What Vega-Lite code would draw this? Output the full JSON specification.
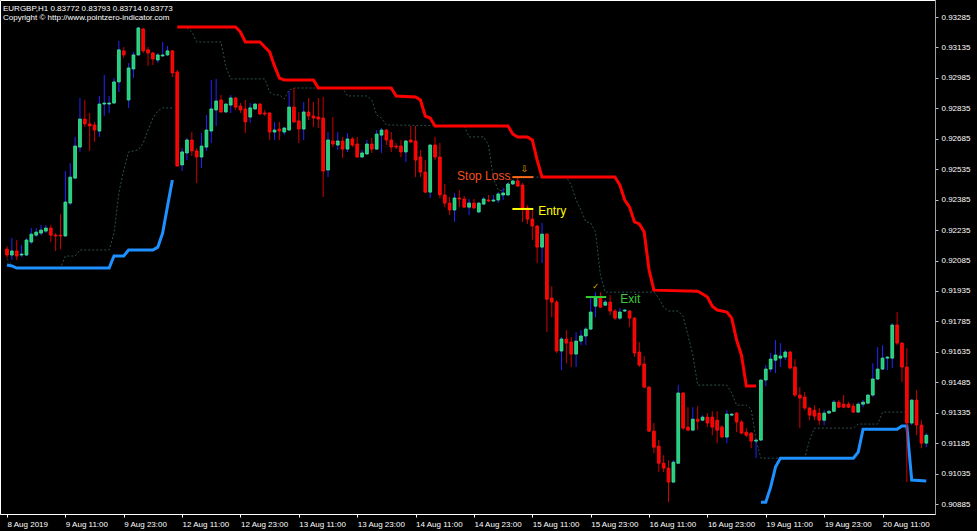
{
"$schema": "https://vega.github.io/schema/vega-lite/v6.json",
"width": 935, "height": 514,
"autosize": {"type": "none"},
"padding": {"left": 0, "top": 0, "right": 42, "bottom": 17},
"background": "#000000",
"config": {
  "view": {"stroke": "#ffffff", "strokeWidth": 1},
  "axis": {"labelFont": "Liberation Sans", "labelFontSize": 8, "labelColor": "#ffffff", "grid": false, "domainColor": "#ffffff", "tickColor": "#ffffff", "title": null, "labelOverlap": false}
},
"title": {"text": "EURGBP,H1  0.83772 0.83793 0.83714 0.83773", "subtitle": "Copyright © http://www.pointzero-indicator.com", "anchor": "start", "frame": "group", "orient": "top", "offset": -22, "dx": 3, "font": "Liberation Sans", "fontSize": 8, "fontWeight": "normal", "color": "#ffffff", "subtitleFont": "Liberation Sans", "subtitleFontSize": 8, "subtitleColor": "#ffffff", "subtitlePadding": 1},
"datasets": {
  "bars": [
{"i":0,"o":0.92141,"h":0.92156,"l":0.92097,"c":0.92112},
{"i":1,"o":0.92112,"h":0.92196,"l":0.92087,"c":0.92132},
{"i":2,"o":0.92132,"h":0.92186,"l":0.92087,"c":0.92107},
{"i":3,"o":0.92112,"h":0.92161,"l":0.92102,"c":0.92117},
{"i":4,"o":0.92112,"h":0.92196,"l":0.92107,"c":0.92186},
{"i":5,"o":0.92176,"h":0.92245,"l":0.92166,"c":0.92215},
{"i":6,"o":0.92210,"h":0.92245,"l":0.92201,"c":0.92225},
{"i":7,"o":0.92220,"h":0.92260,"l":0.92210,"c":0.92235},
{"i":8,"o":0.92230,"h":0.92260,"l":0.92220,"c":0.92245},
{"i":9,"o":0.92245,"h":0.92260,"l":0.92176,"c":0.92210},
{"i":10,"o":0.92210,"h":0.92220,"l":0.92132,"c":0.92206},
{"i":11,"o":0.92210,"h":0.92314,"l":0.92141,"c":0.92206},
{"i":12,"o":0.92206,"h":0.92526,"l":0.92201,"c":0.92373},
{"i":13,"o":0.92368,"h":0.92565,"l":0.92358,"c":0.92496},
{"i":14,"o":0.92491,"h":0.92694,"l":0.92487,"c":0.92649},
{"i":15,"o":0.92644,"h":0.92886,"l":0.92620,"c":0.92782},
{"i":16,"o":0.92782,"h":0.92876,"l":0.92743,"c":0.92758},
{"i":17,"o":0.92758,"h":0.92812,"l":0.92625,"c":0.92748},
{"i":18,"o":0.92753,"h":0.92768,"l":0.92669,"c":0.92728},
{"i":19,"o":0.92723,"h":0.92896,"l":0.92694,"c":0.92856},
{"i":20,"o":0.92856,"h":0.92999,"l":0.92797,"c":0.92861},
{"i":21,"o":0.92856,"h":0.92896,"l":0.92812,"c":0.92861},
{"i":22,"o":0.92861,"h":0.92984,"l":0.92856,"c":0.92965},
{"i":23,"o":0.92965,"h":0.93167,"l":0.92915,"c":0.93123},
{"i":24,"o":0.93118,"h":0.93137,"l":0.93083,"c":0.93098},
{"i":25,"o":0.92876,"h":0.93058,"l":0.92837,"c":0.93034},
{"i":26,"o":0.93029,"h":0.93113,"l":0.92984,"c":0.93098},
{"i":27,"o":0.93098,"h":0.93236,"l":0.93093,"c":0.93231},
{"i":28,"o":0.93226,"h":0.93231,"l":0.93108,"c":0.93118},
{"i":29,"o":0.93123,"h":0.93137,"l":0.93044,"c":0.93108},
{"i":30,"o":0.93108,"h":0.93113,"l":0.93049,"c":0.93078},
{"i":31,"o":0.93073,"h":0.93108,"l":0.93058,"c":0.93098},
{"i":32,"o":0.93093,"h":0.93162,"l":0.93088,"c":0.93098},
{"i":33,"o":0.93098,"h":0.93142,"l":0.93093,"c":0.93118},
{"i":34,"o":0.93118,"h":0.93123,"l":0.92989,"c":0.93009},
{"i":35,"o":0.93014,"h":0.93024,"l":0.92546,"c":0.92551},
{"i":36,"o":0.92556,"h":0.92639,"l":0.92526,"c":0.92620},
{"i":37,"o":0.92615,"h":0.92689,"l":0.92580,"c":0.92679},
{"i":38,"o":0.92679,"h":0.92718,"l":0.92600,"c":0.92625},
{"i":39,"o":0.92625,"h":0.92639,"l":0.92467,"c":0.92595},
{"i":40,"o":0.92595,"h":0.92713,"l":0.92541,"c":0.92649},
{"i":41,"o":0.92644,"h":0.92802,"l":0.92625,"c":0.92728},
{"i":42,"o":0.92723,"h":0.92975,"l":0.92664,"c":0.92832},
{"i":43,"o":0.92827,"h":0.92980,"l":0.92748,"c":0.92871},
{"i":44,"o":0.92876,"h":0.92901,"l":0.92812,"c":0.92817},
{"i":45,"o":0.92817,"h":0.92861,"l":0.92812,"c":0.92856},
{"i":46,"o":0.92851,"h":0.92901,"l":0.92812,"c":0.92886},
{"i":47,"o":0.92886,"h":0.92891,"l":0.92827,"c":0.92841},
{"i":48,"o":0.92846,"h":0.92861,"l":0.92812,"c":0.92827},
{"i":49,"o":0.92832,"h":0.92876,"l":0.92713,"c":0.92768},
{"i":50,"o":0.92792,"h":0.92861,"l":0.92763,"c":0.92837},
{"i":51,"o":0.92832,"h":0.92861,"l":0.92827,"c":0.92856},
{"i":52,"o":0.92856,"h":0.92861,"l":0.92802,"c":0.92807},
{"i":53,"o":0.92812,"h":0.92827,"l":0.92797,"c":0.92807},
{"i":54,"o":0.92812,"h":0.92817,"l":0.92679,"c":0.92718},
{"i":55,"o":0.92718,"h":0.92768,"l":0.92679,"c":0.92728},
{"i":56,"o":0.92733,"h":0.92768,"l":0.92679,"c":0.92723},
{"i":57,"o":0.92718,"h":0.92743,"l":0.92703,"c":0.92738},
{"i":58,"o":0.92728,"h":0.92920,"l":0.92723,"c":0.92841},
{"i":59,"o":0.92841,"h":0.92935,"l":0.92763,"c":0.92768},
{"i":60,"o":0.92773,"h":0.92817,"l":0.92664,"c":0.92733},
{"i":61,"o":0.92733,"h":0.92866,"l":0.92679,"c":0.92817},
{"i":62,"o":0.92817,"h":0.92886,"l":0.92777,"c":0.92797},
{"i":63,"o":0.92797,"h":0.92866,"l":0.92743,"c":0.92787},
{"i":64,"o":0.92792,"h":0.92886,"l":0.92738,"c":0.92782},
{"i":65,"o":0.92787,"h":0.92891,"l":0.92398,"c":0.92526},
{"i":66,"o":0.92531,"h":0.92718,"l":0.92496,"c":0.92679},
{"i":67,"o":0.92674,"h":0.92792,"l":0.92644,"c":0.92659},
{"i":68,"o":0.92654,"h":0.92718,"l":0.92630,"c":0.92674},
{"i":69,"o":0.92674,"h":0.92694,"l":0.92590,"c":0.92634},
{"i":70,"o":0.92634,"h":0.92713,"l":0.92620,"c":0.92684},
{"i":71,"o":0.92684,"h":0.92694,"l":0.92644,"c":0.92654},
{"i":72,"o":0.92659,"h":0.92694,"l":0.92590,"c":0.92595},
{"i":73,"o":0.92595,"h":0.92630,"l":0.92590,"c":0.92615},
{"i":74,"o":0.92610,"h":0.92679,"l":0.92605,"c":0.92659},
{"i":75,"o":0.92659,"h":0.92689,"l":0.92615,"c":0.92634},
{"i":76,"o":0.92634,"h":0.92728,"l":0.92630,"c":0.92708},
{"i":77,"o":0.92703,"h":0.92738,"l":0.92615,"c":0.92728},
{"i":78,"o":0.92728,"h":0.92733,"l":0.92654,"c":0.92679},
{"i":79,"o":0.92679,"h":0.92718,"l":0.92620,"c":0.92644},
{"i":80,"o":0.92649,"h":0.92664,"l":0.92634,"c":0.92644},
{"i":81,"o":0.92649,"h":0.92679,"l":0.92595,"c":0.92620},
{"i":82,"o":0.92620,"h":0.92679,"l":0.92570,"c":0.92674},
{"i":83,"o":0.92679,"h":0.92748,"l":0.92664,"c":0.92669},
{"i":84,"o":0.92674,"h":0.92748,"l":0.92496,"c":0.92580},
{"i":85,"o":0.92595,"h":0.92630,"l":0.92496,"c":0.92521},
{"i":86,"o":0.92521,"h":0.92580,"l":0.92418,"c":0.92422},
{"i":87,"o":0.92422,"h":0.92659,"l":0.92393,"c":0.92654},
{"i":88,"o":0.92654,"h":0.92694,"l":0.92580,"c":0.92595},
{"i":89,"o":0.92595,"h":0.92664,"l":0.92393,"c":0.92408},
{"i":90,"o":0.92408,"h":0.92462,"l":0.92348,"c":0.92368},
{"i":91,"o":0.92368,"h":0.92398,"l":0.92309,"c":0.92334},
{"i":92,"o":0.92334,"h":0.92418,"l":0.92275,"c":0.92393},
{"i":93,"o":0.92393,"h":0.92432,"l":0.92348,"c":0.92388},
{"i":94,"o":0.92388,"h":0.92403,"l":0.92344,"c":0.92348},
{"i":95,"o":0.92348,"h":0.92388,"l":0.92309,"c":0.92368},
{"i":96,"o":0.92368,"h":0.92388,"l":0.92339,"c":0.92344},
{"i":97,"o":0.92324,"h":0.92373,"l":0.92319,"c":0.92368},
{"i":98,"o":0.92363,"h":0.92398,"l":0.92358,"c":0.92388},
{"i":99,"o":0.92383,"h":0.92408,"l":0.92373,"c":0.92378},
{"i":100,"o":0.92378,"h":0.92408,"l":0.92373,"c":0.92383},
{"i":101,"o":0.92383,"h":0.92422,"l":0.92368,"c":0.92413},
{"i":102,"o":0.92408,"h":0.92442,"l":0.92383,"c":0.92418},
{"i":103,"o":0.92408,"h":0.92467,"l":0.92403,"c":0.92462},
{"i":104,"o":0.92462,"h":0.92482,"l":0.92457,"c":0.92477},
{"i":105,"o":0.92477,"h":0.92496,"l":0.92447,"c":0.92452},
{"i":106,"o":0.92457,"h":0.92467,"l":0.92275,"c":0.92344},
{"i":107,"o":0.92344,"h":0.92358,"l":0.92265,"c":0.92289},
{"i":108,"o":0.92289,"h":0.92334,"l":0.92186,"c":0.92255},
{"i":109,"o":0.92255,"h":0.92260,"l":0.92072,"c":0.92151},
{"i":110,"o":0.92151,"h":0.92270,"l":0.92072,"c":0.92215},
{"i":111,"o":0.92215,"h":0.92220,"l":0.91732,"c":0.91894},
{"i":112,"o":0.91900,"h":0.91959,"l":0.91806,"c":0.91880},
{"i":113,"o":0.91880,"h":0.91890,"l":0.91629,"c":0.91639},
{"i":114,"o":0.91639,"h":0.91708,"l":0.91545,"c":0.91698},
{"i":115,"o":0.91698,"h":0.91742,"l":0.91579,"c":0.91678},
{"i":116,"o":0.91683,"h":0.91708,"l":0.91560,"c":0.91624},
{"i":117,"o":0.91624,"h":0.91732,"l":0.91560,"c":0.91688},
{"i":118,"o":0.91688,"h":0.91742,"l":0.91668,"c":0.91713},
{"i":119,"o":0.91713,"h":0.91757,"l":0.91668,"c":0.91747},
{"i":120,"o":0.91747,"h":0.91905,"l":0.91742,"c":0.91831},
{"i":121,"o":0.91860,"h":0.91929,"l":0.91806,"c":0.91905},
{"i":122,"o":0.91905,"h":0.91929,"l":0.91851,"c":0.91855},
{"i":123,"o":0.91865,"h":0.91890,"l":0.91860,"c":0.91880},
{"i":124,"o":0.91880,"h":0.91915,"l":0.91816,"c":0.91836},
{"i":125,"o":0.91836,"h":0.91846,"l":0.91792,"c":0.91801},
{"i":126,"o":0.91801,"h":0.91851,"l":0.91792,"c":0.91831},
{"i":127,"o":0.91836,"h":0.91846,"l":0.91831,"c":0.91841},
{"i":128,"o":0.91836,"h":0.91841,"l":0.91757,"c":0.91801},
{"i":129,"o":0.91801,"h":0.91806,"l":0.91609,"c":0.91629},
{"i":130,"o":0.91634,"h":0.91683,"l":0.91560,"c":0.91570},
{"i":131,"o":0.91575,"h":0.91614,"l":0.91456,"c":0.91461},
{"i":132,"o":0.91461,"h":0.91466,"l":0.91239,"c":0.91244},
{"i":133,"o":0.91244,"h":0.91284,"l":0.91136,"c":0.91165},
{"i":134,"o":0.91170,"h":0.91200,"l":0.91042,"c":0.91086},
{"i":135,"o":0.91086,"h":0.91126,"l":0.91042,"c":0.91062},
{"i":136,"o":0.91062,"h":0.91101,"l":0.90894,"c":0.90993},
{"i":137,"o":0.90993,"h":0.91101,"l":0.90988,"c":0.91091},
{"i":138,"o":0.91086,"h":0.91471,"l":0.91081,"c":0.91432},
{"i":139,"o":0.91432,"h":0.91437,"l":0.91249,"c":0.91259},
{"i":140,"o":0.91264,"h":0.91362,"l":0.91244,"c":0.91249},
{"i":141,"o":0.91249,"h":0.91362,"l":0.91244,"c":0.91303},
{"i":142,"o":0.91303,"h":0.91367,"l":0.91249,"c":0.91293},
{"i":143,"o":0.91298,"h":0.91323,"l":0.91293,"c":0.91313},
{"i":144,"o":0.91313,"h":0.91333,"l":0.91264,"c":0.91284},
{"i":145,"o":0.91313,"h":0.91342,"l":0.91224,"c":0.91264},
{"i":146,"o":0.91298,"h":0.91342,"l":0.91185,"c":0.91249},
{"i":147,"o":0.91264,"h":0.91274,"l":0.91210,"c":0.91215},
{"i":148,"o":0.91215,"h":0.91347,"l":0.91185,"c":0.91328},
{"i":149,"o":0.91323,"h":0.91333,"l":0.91318,"c":0.91328},
{"i":150,"o":0.91333,"h":0.91338,"l":0.91239,"c":0.91289},
{"i":151,"o":0.91289,"h":0.91298,"l":0.91229,"c":0.91234},
{"i":152,"o":0.91239,"h":0.91259,"l":0.91215,"c":0.91224},
{"i":153,"o":0.91234,"h":0.91239,"l":0.91160,"c":0.91195},
{"i":154,"o":0.91195,"h":0.91205,"l":0.91111,"c":0.91200},
{"i":155,"o":0.91200,"h":0.91501,"l":0.91195,"c":0.91496},
{"i":156,"o":0.91496,"h":0.91570,"l":0.91466,"c":0.91550},
{"i":157,"o":0.91550,"h":0.91629,"l":0.91535,"c":0.91599},
{"i":158,"o":0.91594,"h":0.91693,"l":0.91530,"c":0.91619},
{"i":159,"o":0.91604,"h":0.91678,"l":0.91560,"c":0.91614},
{"i":160,"o":0.91609,"h":0.91644,"l":0.91594,"c":0.91634},
{"i":161,"o":0.91634,"h":0.91639,"l":0.91550,"c":0.91555},
{"i":162,"o":0.91560,"h":0.91599,"l":0.91412,"c":0.91422},
{"i":163,"o":0.91422,"h":0.91461,"l":0.91259,"c":0.91407},
{"i":164,"o":0.91412,"h":0.91437,"l":0.91347,"c":0.91358},
{"i":165,"o":0.91358,"h":0.91362,"l":0.91298,"c":0.91323},
{"i":166,"o":0.91347,"h":0.91372,"l":0.91298,"c":0.91318},
{"i":167,"o":0.91333,"h":0.91358,"l":0.91274,"c":0.91298},
{"i":168,"o":0.91298,"h":0.91347,"l":0.91274,"c":0.91333},
{"i":169,"o":0.91333,"h":0.91347,"l":0.91328,"c":0.91342},
{"i":170,"o":0.91342,"h":0.91397,"l":0.91338,"c":0.91387},
{"i":171,"o":0.91387,"h":0.91397,"l":0.91358,"c":0.91362},
{"i":172,"o":0.91377,"h":0.91422,"l":0.91358,"c":0.91362},
{"i":173,"o":0.91377,"h":0.91387,"l":0.91358,"c":0.91362},
{"i":174,"o":0.91367,"h":0.91382,"l":0.91333,"c":0.91338},
{"i":175,"o":0.91338,"h":0.91387,"l":0.91333,"c":0.91377},
{"i":176,"o":0.91377,"h":0.91397,"l":0.91362,"c":0.91387},
{"i":177,"o":0.91382,"h":0.91427,"l":0.91377,"c":0.91422},
{"i":178,"o":0.91422,"h":0.91579,"l":0.91412,"c":0.91501},
{"i":179,"o":0.91501,"h":0.91658,"l":0.91496,"c":0.91550},
{"i":180,"o":0.91550,"h":0.91668,"l":0.91545,"c":0.91604},
{"i":181,"o":0.91604,"h":0.91614,"l":0.91545,"c":0.91609},
{"i":182,"o":0.91604,"h":0.91777,"l":0.91555,"c":0.91767},
{"i":183,"o":0.91767,"h":0.91831,"l":0.91668,"c":0.91678},
{"i":184,"o":0.91678,"h":0.91683,"l":0.91486,"c":0.91560},
{"i":185,"o":0.91560,"h":0.91653,"l":0.90993,"c":0.91284},
{"i":186,"o":0.91284,"h":0.91402,"l":0.91274,"c":0.91397},
{"i":187,"o":0.91397,"h":0.91446,"l":0.91224,"c":0.91274},
{"i":188,"o":0.91274,"h":0.91298,"l":0.91160,"c":0.91185},
{"i":189,"o":0.91185,"h":0.91234,"l":0.91165,"c":0.91224}
  ],
  "upper": [
{"i":35,"p":0.93236},{"i":47,"p":0.93236},{"i":48,"p":0.93211},{"i":49,"p":0.93162},{"i":52,"p":0.93162},{"i":53,"p":0.93137},{"i":54,"p":0.93113},{"i":55,"p":0.93044},{"i":56,"p":0.92984},{"i":57,"p":0.92975},{"i":63,"p":0.92975},{"i":64,"p":0.92935},{"i":79,"p":0.92935},{"i":80,"p":0.92896},{"i":84,"p":0.92891},{"i":85,"p":0.92876},{"i":86,"p":0.92797},{"i":87,"p":0.92787},{"i":88,"p":0.92748},{"i":103,"p":0.92748},{"i":104,"p":0.92708},{"i":105,"p":0.92694},{"i":107,"p":0.92694},{"i":108,"p":0.92679},{"i":109,"p":0.92580},{"i":110,"p":0.92496},{"i":125,"p":0.92496},{"i":126,"p":0.92457},{"i":127,"p":0.92383},{"i":128,"p":0.92348},{"i":129,"p":0.92275},{"i":130,"p":0.92265},{"i":131,"p":0.92225},{"i":132,"p":0.92038},{"i":133,"p":0.91939},{"i":142,"p":0.91934},{"i":143,"p":0.91920},{"i":144,"p":0.91905},{"i":145,"p":0.91860},{"i":146,"p":0.91841},{"i":147,"p":0.91836},{"i":148,"p":0.91831},{"i":149,"p":0.91801},{"i":150,"p":0.91693},{"i":151,"p":0.91619},{"i":152,"p":0.91466},{"i":154,"p":0.91466}
  ],
  "lower": [
{"s":1,"i":0,"p":0.92063},{"s":1,"i":1,"p":0.92058},{"s":1,"i":2,"p":0.92048},{"s":1,"i":21,"p":0.92048},{"s":1,"i":22,"p":0.92107},{"s":1,"i":24,"p":0.92107},{"s":1,"i":25,"p":0.92137},{"s":1,"i":30,"p":0.92137},{"s":1,"i":31,"p":0.92151},{"s":1,"i":32,"p":0.92220},{"s":1,"i":33,"p":0.92353},{"s":1,"i":34,"p":0.92482},
{"s":2,"i":155,"p":0.90894},{"s":2,"i":156,"p":0.90894},{"s":2,"i":157,"p":0.90968},{"s":2,"i":158,"p":0.91067},{"s":2,"i":159,"p":0.91111},{"s":2,"i":174,"p":0.91111},{"s":2,"i":175,"p":0.91141},{"s":2,"i":176,"p":0.91254},{"s":2,"i":183,"p":0.91254},{"s":2,"i":184,"p":0.91269},{"s":2,"i":185,"p":0.91269},{"s":2,"i":186,"p":0.91003},{"s":2,"i":189,"p":0.90998}
  ],
  "mid": [
{"s":1,"i":0,"p":0.92092},{"s":1,"i":1,"p":0.92063},{"s":1,"i":2,"p":0.92048},{"s":1,"i":11,"p":0.92048},{"s":1,"i":12,"p":0.92107},{"s":1,"i":14,"p":0.92107},{"s":1,"i":15,"p":0.92137},{"s":1,"i":21,"p":0.92137},{"s":1,"i":22,"p":0.92220},{"s":1,"i":23,"p":0.92418},{"s":1,"i":24,"p":0.92531},{"s":1,"i":25,"p":0.92620},{"s":1,"i":27,"p":0.92630},{"s":1,"i":28,"p":0.92664},{"s":1,"i":29,"p":0.92728},{"s":1,"i":30,"p":0.92787},{"s":1,"i":31,"p":0.92822},{"s":1,"i":32,"p":0.92837},{"s":1,"i":34,"p":0.92837},
{"s":2,"i":37,"p":0.93231},{"s":2,"i":38,"p":0.93211},{"s":2,"i":39,"p":0.93162},{"s":2,"i":44,"p":0.93162},{"s":2,"i":45,"p":0.93039},{"s":2,"i":46,"p":0.92980},{"s":2,"i":53,"p":0.92980},{"s":2,"i":54,"p":0.92915},{"s":2,"i":55,"p":0.92901},{"s":2,"i":56,"p":0.92901},{"s":2,"i":57,"p":0.92881},{"s":2,"i":58,"p":0.92925},{"s":2,"i":59,"p":0.92935},{"s":2,"i":69,"p":0.92935},{"s":2,"i":70,"p":0.92896},{"s":2,"i":74,"p":0.92896},{"s":2,"i":75,"p":0.92876},{"s":2,"i":76,"p":0.92802},{"s":2,"i":77,"p":0.92787},{"s":2,"i":78,"p":0.92753},{"s":2,"i":94,"p":0.92748},{"s":2,"i":95,"p":0.92694},{"s":2,"i":98,"p":0.92694},{"s":2,"i":99,"p":0.92654},{"s":2,"i":100,"p":0.92491},{"s":2,"i":101,"p":0.92432},{"s":2,"i":102,"p":0.92427},{"s":2,"i":103,"p":0.92467},{"s":2,"i":104,"p":0.92496},{"s":2,"i":115,"p":0.92496},{"s":2,"i":116,"p":0.92457},{"s":2,"i":117,"p":0.92383},{"s":2,"i":118,"p":0.92334},{"s":2,"i":119,"p":0.92275},{"s":2,"i":120,"p":0.92270},{"s":2,"i":121,"p":0.92225},{"s":2,"i":122,"p":0.92013},{"s":2,"i":123,"p":0.91929},{"s":2,"i":133,"p":0.91929},{"s":2,"i":134,"p":0.91900},{"s":2,"i":135,"p":0.91855},{"s":2,"i":136,"p":0.91836},{"s":2,"i":138,"p":0.91836},{"s":2,"i":139,"p":0.91811},{"s":2,"i":140,"p":0.91717},{"s":2,"i":141,"p":0.91619},{"s":2,"i":142,"p":0.91471},{"s":2,"i":148,"p":0.91471},{"s":2,"i":149,"p":0.91432},{"s":2,"i":150,"p":0.91372},{"s":2,"i":152,"p":0.91372},{"s":2,"i":153,"p":0.91353},{"s":2,"i":154,"p":0.91200},{"s":2,"i":155,"p":0.91111},{"s":2,"i":164,"p":0.91111},{"s":2,"i":165,"p":0.91200},{"s":2,"i":166,"p":0.91259},{"s":2,"i":174,"p":0.91259},{"s":2,"i":175,"p":0.91279},{"s":2,"i":179,"p":0.91279},{"s":2,"i":180,"p":0.91338},{"s":2,"i":185,"p":0.91338}
  ]
},
"encoding": {
  "x": {"field": "i", "type": "quantitative",
        "scale": {"domain": [-0.41, 189.76], "nice": false, "zero": false},
        "axis": {"values": [0,12,24,36,48,60,72,84,96,108,120,132,144,156,168,180],
                 "labelExpr": "['8 Aug 2019','9 Aug 11:00','9 Aug 23:00','12 Aug 11:00','12 Aug 23:00','13 Aug 11:00','13 Aug 23:00','14 Aug 11:00','14 Aug 23:00','15 Aug 11:00','15 Aug 23:00','16 Aug 11:00','16 Aug 23:00','19 Aug 11:00','19 Aug 23:00','20 Aug 11:00'][round(datum.value/12)]",
                 "labelAlign": "left", "labelBaseline": "top", "tickSize": 3, "labelPadding": 3, "labelOverlap": false, "labelFlush": false, "labelBound": false, "domainColor": "#ffffff", "title": null}},
  "y": {"field": "p", "type": "quantitative", "scale": {"domain": [0.908358, 0.933688], "nice": false, "zero": false},
        "axis": {"orient": "right", "title": null, "values": [0.93285,0.93135,0.92985,0.92835,0.92685,0.92535,0.92385,0.92235,0.92085,0.91935,0.91785,0.91635,0.91485,0.91335,0.91185,0.91035,0.90885], "format": ".5f", "tickSize": 3, "labelPadding": 3, "domainColor": "#a0a0a0", "tickColor": "#c0c0c0", "labelOverlap": false, "labelFlush": false, "labelBound": false}}
},
"layer": [
  {"data": {"name": "mid"},
   "mark": {"type": "line", "stroke": "#2f4f4f", "strokeWidth": 1, "strokeDash": [2, 2], "clip": true},
   "encoding": {"detail": {"field": "s"}}},
  {"data": {"name": "upper"},
   "mark": {"type": "line", "stroke": "#ff0000", "strokeWidth": 3, "clip": true}},
  {"data": {"name": "lower"},
   "mark": {"type": "line", "stroke": "#1e90ff", "strokeWidth": 3, "clip": true},
   "encoding": {"detail": {"field": "s"}}},
  {"data": {"name": "bars"},
   "mark": {"type": "rule", "strokeWidth": 1, "clip": true},
   "encoding": {"y": {"field": "l", "type": "quantitative", "scale": {"domain": [0.908358, 0.933688], "nice": false, "zero": false},
        "axis": {"orient": "right", "title": null, "values": [0.93285,0.93135,0.92985,0.92835,0.92685,0.92535,0.92385,0.92235,0.92085,0.91935,0.91785,0.91635,0.91485,0.91335,0.91185,0.91035,0.90885], "format": ".5f", "tickSize": 3, "labelPadding": 3, "domainColor": "#a0a0a0", "tickColor": "#c0c0c0", "labelOverlap": false, "labelFlush": false, "labelBound": false}},
     "y2": {"field": "h"},
     "color": {"condition": {"test": "datum.c >= datum.o", "value": "#2424ff"}, "value": "#d00000"}}},
  {"data": {"name": "bars"},
   "mark": {"type": "bar", "orient": "vertical", "size": 2.8, "strokeWidth": 0.8, "clip": true},
   "encoding": {"y": {"field": "o", "type": "quantitative", "scale": {"domain": [0.908358, 0.933688], "nice": false, "zero": false},
        "axis": {"orient": "right", "title": null, "values": [0.93285,0.93135,0.92985,0.92835,0.92685,0.92535,0.92385,0.92235,0.92085,0.91935,0.91785,0.91635,0.91485,0.91335,0.91185,0.91035,0.90885], "format": ".5f", "tickSize": 3, "labelPadding": 3, "domainColor": "#a0a0a0", "tickColor": "#c0c0c0", "labelOverlap": false, "labelFlush": false, "labelBound": false}},
     "y2": {"field": "c"},
     "fill": {"condition": {"test": "datum.c >= datum.o", "value": "#1fcf7c"}, "value": "#ff0000"},
     "stroke": {"condition": {"test": "datum.c >= datum.o", "value": "#45e8a0"}, "value": "#ff1010"}}},
  {"data": {"values": [{"i": 103.9, "i2": 108.2, "p": 0.92496}]},
   "mark": {"type": "rule", "stroke": "#ff6a1a", "strokeWidth": 2},
   "encoding": {"x2": {"field": "i2"}}},
  {"data": {"values": [{"i": 103.9, "i2": 108.2, "p": 0.92339}]},
   "mark": {"type": "rule", "stroke": "#ffff00", "strokeWidth": 2},
   "encoding": {"x2": {"field": "i2"}}},
  {"data": {"values": [{"i": 119.0, "i2": 123.2, "p": 0.91905}]},
   "mark": {"type": "rule", "stroke": "#32cd32", "strokeWidth": 2},
   "encoding": {"x2": {"field": "i2"}}},
  {"data": {"values": [{"i": 103.5, "p": 0.92501, "t": "Stop Loss"}]},
   "mark": {"type": "text", "align": "right", "baseline": "middle", "font": "Liberation Sans", "fontSize": 12, "fill": "#f4511e"},
   "encoding": {"text": {"field": "t"}}},
  {"data": {"values": [{"i": 109.2, "p": 0.92329, "t": "Entry"}]},
   "mark": {"type": "text", "align": "left", "baseline": "middle", "font": "Liberation Sans", "fontSize": 12, "fill": "#ffff00"},
   "encoding": {"text": {"field": "t"}}},
  {"data": {"values": [{"i": 126.1, "p": 0.91894, "t": "Exit"}]},
   "mark": {"type": "text", "align": "left", "baseline": "middle", "font": "Liberation Sans", "fontSize": 12, "fill": "#3cc83c"},
   "encoding": {"text": {"field": "t"}}},
  {"data": {"values": [{"i": 106.4, "p": 0.92536, "t": "⇩"}]},
   "mark": {"type": "text", "align": "center", "baseline": "middle", "font": "DejaVu Sans", "fontSize": 9, "fill": "#f0a000"},
   "encoding": {"text": {"field": "t"}}},
  {"data": {"values": [{"i": 121.0, "p": 0.91954, "t": "✓"}]},
   "mark": {"type": "text", "align": "center", "baseline": "middle", "font": "DejaVu Sans", "fontSize": 8, "fill": "#e8c000"},
   "encoding": {"text": {"field": "t"}}}
]
}
